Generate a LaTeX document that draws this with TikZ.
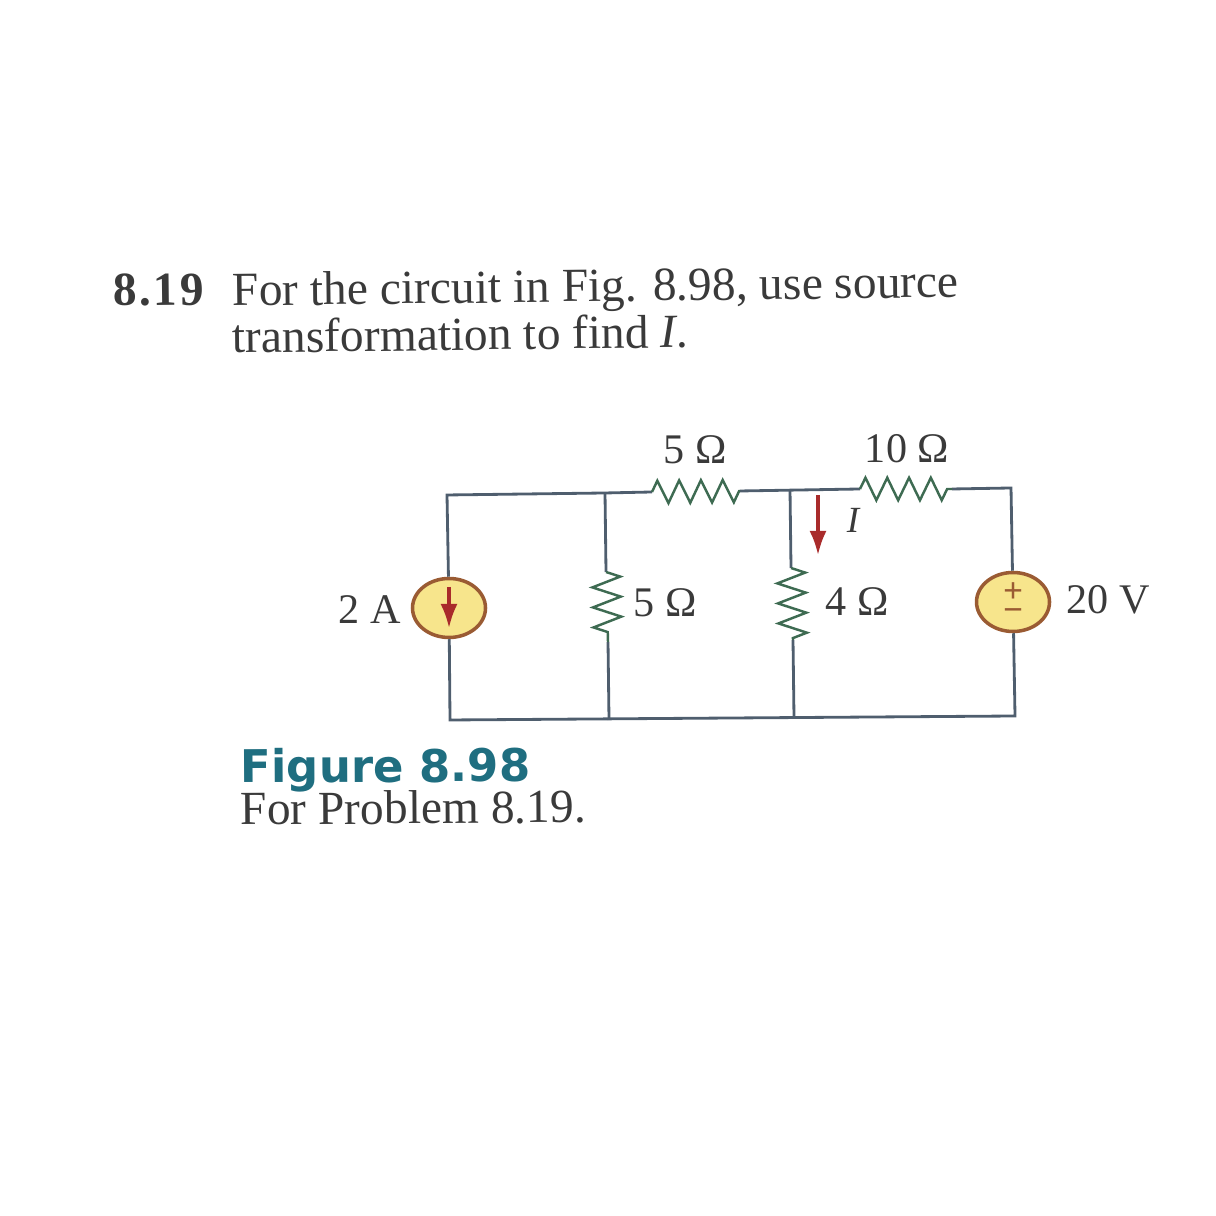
\documentclass[tikz,border=0pt]{standalone}
\usepackage{fontspec}
\setmainfont{Liberation Serif}
\newfontfamily\captionfont{DejaVu Sans}
\usetikzlibrary{decorations.pathmorphing,shapes.geometric,arrows.meta}
\definecolor{wirecol}{HTML}{4F5E6E}
\definecolor{rescol}{HTML}{3E6B52}
\definecolor{srcfill}{HTML}{F7E58C}
\definecolor{srcedge}{HTML}{9A5B33}
\definecolor{arrowcol}{HTML}{A92B2B}
\definecolor{inkcol}{HTML}{3A3A3A}
\definecolor{figcol}{HTML}{1F6E80}
\begin{document}
\begin{tikzpicture}
    [
    wire/.style={draw=wirecol,line width=0.8pt},
    hres/.style={draw=rescol,line width=0.7pt,decorate,decoration={zigzag,segment length=6.2pt,amplitude=3.2pt}},
    vres/.style={draw=rescol,line width=0.7pt,decorate,decoration={zigzag,segment length=5.7pt,amplitude=4pt}},
    source/.style={ellipse,draw=srcedge,fill=srcfill,line width=1pt,inner sep=0pt,minimum width=7.3mm,minimum height=5.9mm},
    sign/.style={inner sep=0pt,text=srcedge,font=\bfseries\fontsize{10}{10}\selectfont},
    value/.style={inner sep=0pt,text=inkcol,font=\fontsize{12}{14}\selectfont},
    para/.style={anchor=base west,inner sep=0pt,text=inkcol,font=\fontsize{13.5}{16}\selectfont,rotate=0.7},
    flow/.style={-{Latex[length=2.4mm,width=1.7mm]},draw=arrowcol,line width=0.9pt}
    ]
    \useasboundingbox (0,0) rectangle (12.16,12.16);
    % junctions
    \coordinate (tl) at (4.47,7.21);
    \coordinate (bl) at (4.50,4.96);
    \coordinate (m1t) at (6.05,7.23);
    \coordinate (m1b) at (6.09,4.96);
    \coordinate (m2t) at (7.90,7.26);
    \coordinate (m2b) at (7.94,4.98);
    \coordinate (tr) at (10.11,7.28);
    \coordinate (br) at (10.15,5.00);
    % resistor ends
    \coordinate (r1a) at (6.52,7.24);
    \coordinate (r1b) at (7.40,7.25);
    \coordinate (r2a) at (8.60,7.27);
    \coordinate (r2b) at (9.52,7.27);
    \coordinate (r3a) at (6.06,6.44);
    \coordinate (r3b) at (6.08,5.74);
    \coordinate (r4a) at (7.91,6.48);
    \coordinate (r4b) at (7.93,5.76);
    % sources
    \node (cs) at (4.49,6.08) [source] {};
    \node (vs) at (10.13,6.14) [source] {};
    \coordinate (csa) at (4.49,6.29);
    \coordinate (csb) at (4.49,5.88);
    \coordinate (ia) at (8.18,7.21);
    \coordinate (ib) at (8.18,6.61);
    % wires
    \draw [wire] (cs) to (tl) to (m1t) to (r1a);
    \draw [wire] (r1b) to (r2a);
    \draw [wire] (r2b) to (tr) to (vs);
    \draw [wire] (cs) to (bl) to (br) to (vs);
    \draw [wire] (m1t) to (r3a);
    \draw [wire] (r3b) to (m1b);
    \draw [wire] (m2t) to (r4a);
    \draw [wire] (r4b) to (m2b);
    % resistors
    \draw [hres] (r1a) to (r1b);
    \draw [hres] (r2a) to (r2b);
    \draw [vres] (r3a) to (r3b);
    \draw [vres] (r4a) to (r4b);
    % arrows
    \draw [flow] (csa) to (csb);
    \draw [flow] (ia) to (ib);
    % source signs
    \node (plus) at (10.13,6.23) [sign] {+};
    \node (minus) at (10.13,6.01) [sign] {−};
    % values
    \node (l1) at (6.95,7.66) [value] {5 Ω};
    \node (l2) at (9.07,7.67) [value] {10 Ω};
    \node (l3) at (6.65,6.13) [value] {5 Ω};
    \node (l4) at (8.57,6.14) [value] {4 Ω};
    \node (l5) at (3.70,6.06) [value] {2 A};
    \node (l6) at (11.08,6.16) [value] {20 V};
    \node (li) at (8.53,6.96) [value,font=\itshape\fontsize{10.5}{12}\selectfont] {I};
    % text
    \node (num) at (1.13,9.10) [para,font=\bfseries\addfontfeatures{LetterSpace=5}\fontsize{13.5}{16}\selectfont] {8.19};
    \node (line1) at (2.32,9.10) [para] {For the circuit in Fig. 8.98, use source};
    \node (line2) at (2.32,8.63) [para] {transformation to find \textit{I}.};
    \node (figname) at (2.40,4.33) [anchor=base west,inner sep=0pt,text=figcol,font=\captionfont\bfseries\fontsize{12.8}{16}\selectfont,rotate=0.3] {Figure 8.98};
    \node (figtext) at (2.40,3.91) [para,rotate=-0.3] {For Problem 8.19.};
\end{tikzpicture}
\end{document}
